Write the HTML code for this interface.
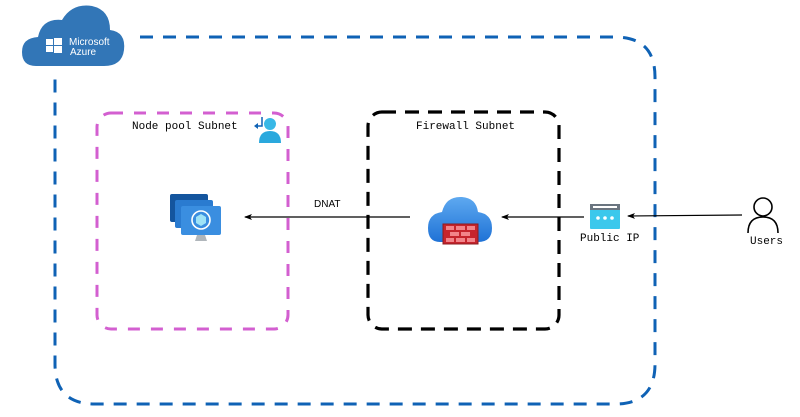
<!DOCTYPE html>
<html><head><meta charset="utf-8"><style>
html,body{margin:0;padding:0;background:#fff;}
body{width:800px;height:417px;position:relative;overflow:hidden;font-family:"Liberation Mono",monospace;}
.t{position:absolute;font-size:11px;color:#000;white-space:nowrap;}
</style></head><body>
<svg width="800" height="417" style="position:absolute;left:0;top:0">
<defs>
<marker id="ah" markerWidth="8" markerHeight="8" refX="7" refY="4" orient="auto" markerUnits="userSpaceOnUse"><path d="M0,1 L8,4 L0,7 L2,4 Z" fill="#000"/></marker>
<linearGradient id="cg" x1="0" y1="0" x2="0" y2="1"><stop offset="0" stop-color="#5ea9f0"/><stop offset="1" stop-color="#1f72d6"/></linearGradient>
</defs>
<path d="M140,37 L615,37 Q655,37 655,77 L655,364 Q655,404 615,404 L95,404 Q55,404 55,364 L55,78" fill="none" stroke="#0f62b5" stroke-width="3" stroke-dasharray="13,10"/>
<rect x="97" y="113" width="191" height="216" rx="14" fill="none" stroke="#d35fd0" stroke-width="3" stroke-dasharray="12,11"/>
<rect x="368" y="112" width="191" height="217" rx="14" fill="none" stroke="#000" stroke-width="3.2" stroke-dasharray="14,9"/>
<path d="M36,66 Q22,66 22,52 Q22,38 38,37 Q42,18 62,20 Q72,3 92,6 Q110,10 110,30 Q126,32 124,50 Q122,66 104,66 Z" fill="#3276b7"/>
<g fill="#fff"><rect x="46" y="39" width="7" height="6"/><rect x="54" y="38" width="8" height="7"/><rect x="46" y="46" width="7" height="6"/><rect x="54" y="46" width="8" height="7"/></g>
<text x="69" y="45" font-family="Liberation Sans" font-size="10" fill="#fff">Microsoft</text>
<text x="70" y="55" font-family="Liberation Sans" font-size="10" fill="#fff">Azure</text>
<circle cx="270" cy="124" r="6" fill="#38b8e6"/>
<path d="M259,143 Q259,131 270,131 Q281,131 281,143 Z" fill="#2aa8dd"/>
<path d="M262,117 L262,126 L256,126" fill="none" stroke="#0f62b5" stroke-width="1.5"/>
<path d="M254,126 L258,123 L258,129 Z" fill="#0f62b5"/>
<rect x="170" y="194" width="38" height="28" rx="2" fill="#14559e"/>
<rect x="175" y="200" width="38" height="28" rx="2" fill="#2a7bd0"/>
<rect x="181" y="206" width="40" height="29" rx="2" fill="#3a8ee0"/>
<circle cx="201" cy="220" r="9" fill="none" stroke="#fff" stroke-width="1.6"/>
<path d="M196,217 L201,214 L206,217 L206,223 L201,226 L196,223 Z" fill="#9ee3f7"/>
<path d="M197,235 L205,235 L207,241 L195,241 Z" fill="#b0b6bb"/>
<path d="M440,242 Q428,242 428,228 Q428,214 442,212 Q446,196 462,197 Q476,198 478,212 Q492,214 492,228 Q492,242 478,242 Z" fill="url(#cg)"/>
<rect x="443" y="224" width="35" height="20" fill="#c6242d" stroke="#8e1b20" stroke-width="1"/>
<g fill="#f2848a"><rect x="446" y="226" width="8" height="4"/><rect x="456" y="226" width="9" height="4"/><rect x="467" y="226" width="8" height="4"/><rect x="450" y="232" width="9" height="4"/><rect x="461" y="232" width="9" height="4"/><rect x="446" y="238" width="8" height="4"/><rect x="456" y="238" width="9" height="4"/><rect x="467" y="238" width="8" height="4"/></g>
<rect x="590" y="204" width="30" height="25" rx="1" fill="#3cc8ec"/>
<rect x="590" y="204" width="30" height="6" fill="#6a7580"/>
<rect x="593" y="206" width="24" height="2" fill="#fff"/>
<circle cx="598" cy="218" r="1.8" fill="#fff"/><circle cx="605" cy="218" r="1.8" fill="#fff"/><circle cx="612" cy="218" r="1.8" fill="#fff"/>
<circle cx="763" cy="207" r="9" fill="none" stroke="#000" stroke-width="1.6"/>
<path d="M748,233 Q748,217 763,217 Q778,217 778,233" fill="none" stroke="#000" stroke-width="1.6"/>
<line x1="410" y1="217" x2="245" y2="217" stroke="#000" stroke-width="1.2" marker-end="url(#ah)"/>
<line x1="584" y1="217" x2="502" y2="217" stroke="#000" stroke-width="1.2" marker-end="url(#ah)"/>
<line x1="742" y1="215" x2="628" y2="216" stroke="#000" stroke-width="1.2" marker-end="url(#ah)"/>
</svg>
<div class="t" style="left:132px;top:121px">Node pool Subnet</div>
<div class="t" style="left:416px;top:121px">Firewall Subnet</div>
<div class="t" style="left:314px;top:199px;font-family:'Liberation Sans',sans-serif;font-size:10px">DNAT</div>
<div class="t" style="left:580px;top:233px">Public IP</div>
<div class="t" style="left:750px;top:236px">Users</div>
</body></html>
